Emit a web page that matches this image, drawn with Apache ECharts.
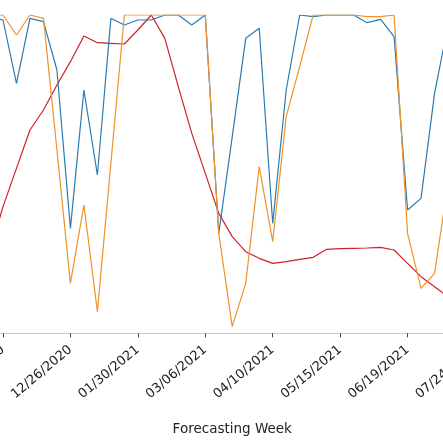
<!DOCTYPE html>
<html><head><meta charset="utf-8">
<script src="https://cdn.jsdelivr.net/npm/echarts@6/dist/echarts.min.js"></script>
<style>html,body{margin:0;padding:0;background:#fff}#c{width:443px;height:443px}</style>
</head><body><div id="c"></div>
<script>
const weeks = [];
(function(){ let d = new Date(Date.UTC(2020,10,14)); for (let i=0;i<37;i++){ const m=String(d.getUTCMonth()+1).padStart(2,'0'), dd=String(d.getUTCDate()).padStart(2,'0'); weeks.push(m+'/'+dd+'/'+d.getUTCFullYear()); d=new Date(d.getTime()+7*864e5);} })();
const blue = [95,94,75,94.5,93.5,79,31.5,73,47.5,94.5,92.5,94,94,95.5,95.5,92.5,95.5,30,59,88.5,91.5,33,73,95.5,95,95.5,95.5,95.5,93.2,94.2,89,37,40.5,72,92.5];
const orange = [95.5,95.5,89.5,95.5,94.5,55,15,38.5,6.5,51,95.5,95.5,95.5,95.5,95.5,95.5,95.5,30,2,15,50,27.5,65,80,95.5,95.5,95.5,95.5,95,95,95.5,30,13.5,18,45];
const red = [24,38,49.5,61,67,74.5,81.5,89.2,87.2,87,86.8,91,95.5,88.5,74,60,48,36,29,24.5,22.5,21,21.5,22.2,22.8,25.2,25.4,25.5,25.6,25.8,25,21,17,14,11];
const chart = echarts.init(document.getElementById('c'));
const show = (i) => (i-1)%5===0;
const ln = (d,c) => ({type:'line',data:d,showSymbol:false,symbol:'none',lineStyle:{color:c,width:1.2},itemStyle:{color:c},animation:false});
chart.setOption({
  animation:false,
  grid:{left:-10.5,right:-32,top:15,bottom:101,containLabel:false,outerBoundsMode:'none'},
  xAxis:{type:'category',data:weeks,boundaryGap:false,
    name:'Forecasting Week',nameLocation:'middle',nameGap:80,
    nameTextStyle:{fontFamily:'DejaVu Sans',fontSize:13.5,color:'#222'},
    axisLine:{lineStyle:{color:'#c8c8c8',width:1}},
    axisTick:{interval:show,length:4,lineStyle:{color:'#444'}},
    axisLabel:{interval:show,rotate:40,fontFamily:'DejaVu Sans',fontSize:13,color:'#222',margin:6,hideOverlap:false}},
  yAxis:{type:'value',min:-2.6,max:95.5,show:false,splitLine:{show:false}},
  series:[ln(red,'#d0202a'),ln(blue,'#2a7bb0'),ln(orange,'#f0922a')]
});
</script></body></html>
